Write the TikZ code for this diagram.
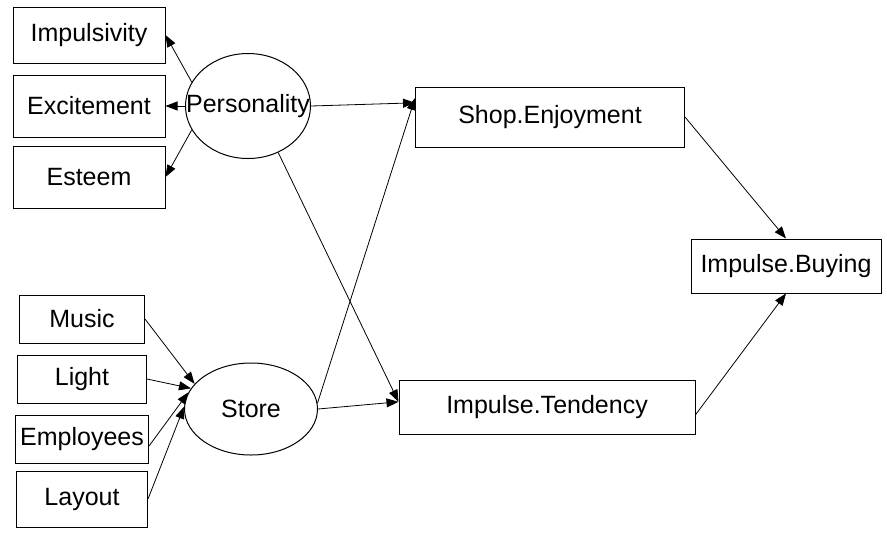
\documentclass[tikz,border=0pt]{standalone}
\usepackage{fontspec}
\setmainfont{Liberation Sans}
\usetikzlibrary{arrows.meta,shapes.geometric}
\tikzset{
  obs/.style={draw,line width=1pt,inner sep=0pt,font=\fontsize{25}{30}\selectfont},
  lat/.style={draw,ellipse,line width=1pt,inner sep=0pt,
    label={[font=\fontsize{25}{30}\selectfont,inner sep=0pt]center:#1}},
  path/.style={line width=0.8pt,-{Triangle[length=12pt,width=9pt]}}
}
\begin{document}
\begin{tikzpicture}[x=1pt,y=-1pt]
\useasboundingbox (0,0) rectangle (887,542);
% personality block
\node[obs,minimum width=152,minimum height=56] (imp) at (89,35) {Impulsivity};
\node[obs,minimum width=152,minimum height=62] (exc) at (89,106) {Excitement};
\node[obs,minimum width=152,minimum height=62] (est) at (89,177) {Esteem};
\node[lat=Personality,minimum width=125,minimum height=105] (pers) at (248,106) {};
% store block
\node[obs,minimum width=125,minimum height=48] (mus) at (82,319) {Music};
\node[obs,minimum width=129,minimum height=48] (lig) at (82,379) {Light};
\node[obs,minimum width=133,minimum height=48] (emp) at (82,439) {Employees};
\node[obs,minimum width=131,minimum height=56] (lay) at (82,499) {Layout};
\node[lat=Store,minimum width=133,minimum height=92] (store) at (251,409) {};
% outcomes
\node[obs,minimum width=269,minimum height=60] (shop) at (550,117) {Shop.Enjoyment};
\node[obs,minimum width=296,minimum height=54] (tend) at (547,407) {Impulse.Tendency};
\node[obs,minimum width=190,minimum height=54] (buy) at (786,266) {Impulse.Buying};
% paths
\draw[path] (pers.157) -- (imp.east);
\draw[path] (pers.west) -- (exc.east);
\draw[path] (pers.203) -- (est.east);
\draw[path] (pers.east) -- (shop.174);
\draw[path] (pers.-57) -- (tend.178);
\draw[path] (store.5) -- (shop.172);
\draw[path] (store.east) -- (tend.178);
\draw[path] (mus.east) -- (store.156);
\draw[path] (lig.east) -- (store.161);
\draw[path] (emp.-6) -- (store.165);
\draw[path] (lay.east) -- (store.178);
\draw[path] (shop.east) -- (buy.north);
\draw[path] (tend.-3) -- (buy.south);
\end{tikzpicture}
\end{document}
